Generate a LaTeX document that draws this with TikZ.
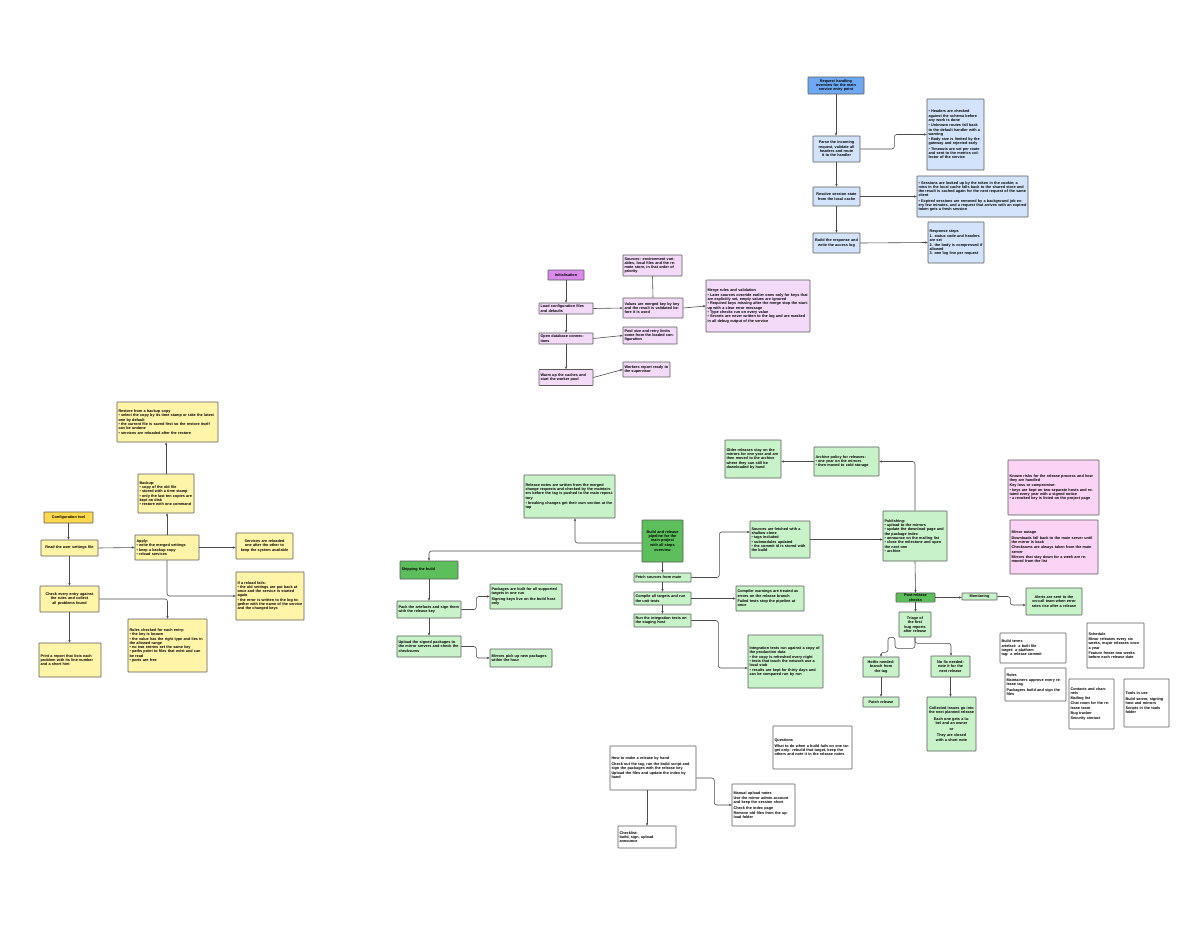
\documentclass[tikz,border=0pt]{standalone}
\usepackage{fontspec}
\setmainfont{Liberation Sans}
\usepackage{tikz}
\usetikzlibrary{positioning,arrows.meta}

\definecolor{bluehead}{HTML}{6EA8F2}
\definecolor{bluefill}{HTML}{D2E3FB}
\definecolor{purphead}{HTML}{D98BEC}
\definecolor{purpfill}{HTML}{F3DAF9}
\definecolor{yelhead}{HTML}{FFD84D}
\definecolor{yelfill}{HTML}{FFF4A8}
\definecolor{grnhead}{HTML}{5CBF5C}
\definecolor{grnfill}{HTML}{C8F2C8}
\definecolor{pinkfill}{HTML}{FBD3F5}

\begin{document}
\begin{tikzpicture}[x=1pt, y=-1pt,
    card/.style={draw=black!65, line width=0.6pt, rectangle, rounded corners=0.5pt, inner xsep=1.5pt, inner ysep=1pt, align=left, font=\fontsize{3.8}{4.3}\selectfont\bfseries},
    sz/.style 2 args={text width=#1pt, minimum height=#2pt},
    blueh/.style={card, fill=bluehead, align=center},
    blueb/.style={card, fill=bluefill},
    purph/.style={card, fill=purphead, align=center},
    purpb/.style={card, fill=purpfill},
    yelh/.style={card, fill=yelhead, align=center},
    yelb/.style={card, fill=yelfill},
    grnh/.style={card, fill=grnhead},
    grnb/.style={card, fill=grnfill},
    pinkb/.style={card, fill=pinkfill},
    whiteb/.style={card, fill=white},
    link/.style={draw=black!70, line width=0.6pt, -{Stealth[length=2.8pt,width=2.4pt]}, rounded corners=2.5pt},
    wire/.style={draw=black!70, line width=0.6pt, rounded corners=2.5pt}]

    \path[fill=white, use as bounding box] (0,0) rectangle (1200,927);

    % Request flow (blue)
    \node[blueh, sz={53}{17}] (req) at (836,85.5) {Request handling overview for the main service entry point};
    \node[blueb, sz={44}{26}, align=center] (parse) at (836.5,149) {Parse the incoming request, validate all headers and route it to the handler};
    \node[blueb, sz={44}{19}, align=center] (sess) at (836.5,196.5) {Resolve session state from the local cache};
    \node[blueb, sz={44}{20}, align=center] (resp) at (836.5,243) {Build the response and write the access log};
    \node[blueb, sz={54}{71}] (parsenote) at (955.5,134.5) {\textbullet\ Headers are checked against the schema before any work is done\\[1pt] \textbullet\ Unknown routes fall back to the default handler with a warning\\[1pt] \textbullet\ Body size is limited by the gateway and rejected early\\[1pt] \textbullet\ Timeouts are set per route and sent to the metrics collector of the service};
    \node[blueb, sz={108}{41}] (sessnote) at (972.5,196.5) {\textbullet\ Sessions are looked up by the token in the cookie; a miss in the local cache falls back to the shared store and the result is cached again for the next request of the same client\\[1pt] \textbullet\ Expired sessions are removed by a background job every few minutes, and a request that arrives with an expired token gets a fresh session};
    \node[blueb, sz={53}{41}] (respnote) at (956,242.5) {Response steps\\[1pt] 1. status code and headers are set\\ 2. the body is compressed if allowed\\ 3. one log line per request};

    % Initialisation (purple)
    \node[purph, sz={33}{10}] (init) at (566,275) {Initialisation};
    \node[purpb, sz={51}{11}] (load) at (566,308.5) {Load configuration files and defaults};
    \node[purpb, sz={51}{11}] (conn) at (566,338.5) {Open database connections};
    \node[purpb, sz={51}{16}] (warm) at (566,377.5) {Warm up the caches and start the worker pool};
    \node[purpb, sz={56}{21}] (cfgsrc) at (652.5,265.5) {Sources: environment variables, local files and the remote store, in that order of priority};
    \node[purpb, sz={57}{20}] (merge) at (653,308) {Values are merged key by key and the result is validated before it is used};
    \node[purpb, sz={51}{17}] (pool) at (650,335.5) {Pool size and retry limits come from the loaded configuration};
    \node[purpb, sz={44}{15}] (workers) at (646.5,369.5) {Workers report ready to the supervisor};
    \node[purpb, sz={101}{52}] (mergenote) at (758,306) {Merge rules and validation\\ \textbullet\ Later sources override earlier ones only for keys that are explicitly set, empty values are ignored\\ \textbullet\ Required keys missing after the merge stop the start-up with a clear error message\\ \textbullet\ Type checks run on every value\\ \textbullet\ Secrets are never written to the log and are masked in all debug output of the service};

    % Configuration tool (yellow)
    \node[yelh, sz={46}{11}] (cfg) at (68.5,517.5) {Configuration tool};
    \node[yelb, sz={54}{16}, align=center] (read) at (69.5,548) {Read the user settings file};
    \node[yelb, sz={56}{26}, align=center] (check) at (69.5,599) {Check every entry against the rules and collect all problems found};
    \node[yelb, sz={59}{34}] (report) at (70,660) {Print a report that lists each problem with its line number and a short hint};
    \node[yelb, sz={61}{25}] (apply) at (167,547.5) {Apply:\\ \textbullet\ write the merged settings\\ \textbullet\ keep a backup copy\\ \textbullet\ reload services};
    \node[yelb, sz={53}{39}] (backup) at (166,493.5) {Backup:\\ \textbullet\ copy of the old file\\ \textbullet\ stored with a time stamp\\ \textbullet\ only the last ten copies are kept on disk\\ \textbullet\ restore with one command};
    \node[yelb, sz={98}{40}] (restore) at (167.5,422) {Restore from a backup copy\\ \textbullet\ select the copy by its time stamp or take the latest one by default\\ \textbullet\ the current file is saved first so the restore itself can be undone\\ \textbullet\ services are reloaded after the restore};
    \node[yelb, sz={54}{26}, align=center] (reload) at (264.5,546) {Services are reloaded one after the other to keep the system available};
    \node[yelb, sz={65}{48}] (fail) at (270,596) {If a reload fails:\\ \textbullet\ the old settings are put back at once and the service is started again\\ \textbullet\ the error is written to the log together with the name of the service and the changed keys};
    \node[yelb, sz={76}{53}] (rules) at (167.5,645.5) {Rules checked for each entry:\\ \textbullet\ the key is known\\ \textbullet\ the value has the right type and lies in the allowed range\\ \textbullet\ no two entries set the same key\\ \textbullet\ paths point to files that exist and can be read\\ \textbullet\ ports are free};

    % Build and release (green)
    \node[grnh, sz={55}{18}] (ship) at (429,570) {Shipping the build};
    \node[grnb, sz={61}{17}] (pack) at (429,609.5) {Pack the artefacts and sign them with the release key};
    \node[grnb, sz={61}{21}] (upload) at (429,646.5) {Upload the signed packages to the mirror servers and check the checksums};
    \node[grnb, sz={69}{25}] (packnote) at (526,596.5) {Packages are built for all supported targets in one run\\[1pt] Signing keys live on the build host only};
    \node[grnb, sz={59}{18}] (mirror) at (521,658) {Mirrors pick up new packages within the hour};
    \node[grnb, sz={88}{43}] (notes) at (569.5,496.5) {Release notes are written from the merged change requests and checked by the maintainers before the tag is pushed to the main repository\\[1pt] \textbullet\ breaking changes get their own section at the top};
    \node[grnh, sz={38}{42}, align=center] (build) at (662.5,541) {Build and release pipeline for the main project with all steps\\[1pt] overview};
    \node[grnb, sz={54}{9}] (fetch) at (662.5,577.5) {Fetch sources from main};
    \node[grnb, sz={54}{13}] (compile) at (662.5,598.5) {Compile all targets and run the unit tests};
    \node[grnb, sz={54}{13}] (test) at (662.5,620.5) {Run the integration tests on the staging host};
    \node[grnb, sz={57}{37}] (fetchnote) at (780,539.5) {Sources are fetched with a shallow clone\\ \textbullet\ tags included\\ \textbullet\ submodules updated\\ \textbullet\ the commit id is stored with the build};
    \node[grnb, sz={65}{25}] (compnote) at (770,598.5) {Compiler warnings are treated as errors on the release branch\\[1pt] Failed tests stop the pipeline at once};
    \node[grnb, sz={72}{53}] (testnote) at (785.5,661.5) {Integration tests run against a copy of the production data\\ \textbullet\ the copy is refreshed every night\\ \textbullet\ tests that touch the network use a local stub\\ \textbullet\ results are kept for thirty days and can be compared run by run};
    \node[grnb, sz={53}{38}] (oldrel) at (753,459) {Older releases stay on the mirrors for one year and are then moved to the archive where they can still be downloaded by hand};
    \node[grnb, sz={62}{29}] (archive) at (846.5,461.5) {Archive policy for releases:\\ \textbullet\ one year on the mirrors\\ \textbullet\ then moved to cold storage};
    \node[grnb, sz={61}{50}] (publish) at (915,536) {Publishing:\\ \textbullet\ upload to the mirrors\\ \textbullet\ update the download page and the package index\\ \textbullet\ announce on the mailing list\\ \textbullet\ close the milestone and open the next one\\ \textbullet\ archive};
    \node[grnh, sz={36}{9}, align=center] (post) at (915.5,597.5) {Post-release checks};
    \node[grnb, sz={32}{7}, align=center] (monitor) at (979.5,596.5) {Monitoring};
    \node[grnb, sz={53}{27}, align=center] (alerts) at (1054,601.5) {Alerts are sent to the on-call team when error rates rise after a release};
    \node[grnb, sz={29}{25}, align=center] (triage) at (915,624.5) {Triage of the first bug reports after release};
    \node[grnb, sz={33}{20}, align=center] (hotfix) at (881,667) {Hotfix needed: branch from the tag};
    \node[grnb, sz={36}{21}, align=center] (nofix) at (950.5,666.5) {No fix needed: note it for the next release};
    \node[grnb, sz={33}{10}, align=center] (patch) at (881,702) {Patch release};
    \node[grnb, sz={46}{54}, align=center] (nextrel) at (951.5,724) {Collected issues go into the next planned release\\[2pt] Each one gets a label and an owner\\[2pt] or\\[2pt] They are closed with a short note};

    % Risks (pink)
    \node[pinkb, sz={88}{55}] (risk) at (1053.5,487.5) {Known risks for the release process and how they are handled\\[1pt] Key loss or compromise:\\ \textbullet\ keys are kept on two separate hosts and rotated every year with a signed notice\\ \textbullet\ a revoked key is listed on the project page};
    \node[pinkb, sz={85}{54}] (mirrorrisk) at (1054,547) {Mirror outage\\[1pt] Downloads fall back to the main server until the mirror is back\\[1pt] Checksums are always taken from the main server\\[1pt] Mirrors that stay down for a week are removed from the list};

    % Side notes (white)
    \node[whiteb, sz={63}{30}] (glossary) at (1033,648) {Build terms\\[1pt] artefact: a built file\\ target: a platform\\ tag: a release commit};
    \node[whiteb, sz={58}{33}] (roles) at (1035.5,684.5) {Roles\\[1pt] Maintainers approve every release tag\\[1pt] Packagers build and sign the files};
    \node[whiteb, sz={54}{45}] (sched) at (1115.5,645.5) {Schedule\\[1pt] Minor releases every six weeks, major releases once a year\\[1pt] Feature freeze two weeks before each release date};
    \node[whiteb, sz={42}{50}] (contacts) at (1091.5,704) {Contacts and channels\\[1pt] Mailing list\\[1pt] Chat room for the release team\\[1pt] Bug tracker\\[1pt] Security contact};
    \node[whiteb, sz={42}{48}] (tools) at (1146.5,703) {Tools in use\\[1pt] Build server, signing host and mirrors\\[1pt] Scripts in the tools folder};
    \node[whiteb, sz={83}{44}] (howto) at (653,768) {How to make a release by hand\\[1pt] Check out the tag, run the build script and sign the packages with the release key\\[1pt] Upload the files and update the index by hand};
    \node[whiteb, sz={55}{22}] (steps) at (647,837) {Checklist:\\ build, sign, upload\\ announce};
    \node[whiteb, sz={60}{42}] (manual) at (763.5,805) {Manual upload notes\\[1pt] Use the mirror admin account and keep the session short\\[1pt] Check the index page\\[1pt] Remove old files from the upload folder};
    \node[whiteb, sz={76}{43}] (faq) at (812.5,747.5) {Questions\\[1pt] What to do when a build fails on one target only: rebuild that target, keep the others and note it in the release notes};

    % Arrows (blue)
    \draw[link] (req.south) -- (req.south |- parse.north);
    \draw[link] (parse.south) -- (sess.north);
    \draw[link] (sess.south) -- (resp.north);
    \draw[link] (parse.east) -- ++(34,0) |- (parsenote.west);
    \draw[link] (sess.east) -- (sessnote.west);
    \draw[link] (resp.east) -- (respnote.west);

    % Arrows (purple)
    \draw[link] (init.south) -- (load.north);
    \draw[link] (load.south) -- (conn.north);
    \draw[link] (conn.south) -- (warm.north);
    \draw[link] (load.east) -- (merge.west);
    \draw[wire] (cfgsrc.south) -- (merge.north);
    \draw[link] (merge.east) -- (mergenote.west);
    \draw[link] (conn.east) -- (pool.west);
    \draw[link] (warm.east) -- (workers.west);

    % Arrows (yellow)
    \draw[link] (cfg.south) -- (cfg.south |- read.north);
    \draw[link] (read.south) -- (check.north);
    \draw[link] (check.south) -- (check.south |- report.north);
    \draw[link] (read.east) -- (apply.west);
    \draw[link] (apply.north) -- (apply.north |- backup.south);
    \draw[link] (backup.north) -- (backup.north |- restore.south);
    \draw[link] (apply.east) -- (apply.east -| reload.west);
    \draw[link] (apply.south) |- (fail.west);
    \draw[link] (check.east) -| (rules.north);

    % Arrows (green)
    \draw[link] ([yshift=-2pt]build.west) -| ([xshift=5.5pt]notes.south);
    \draw[link] ([yshift=-10pt]build.west) -| (ship.north);
    \draw[link] (ship.south) -- (pack.north);
    \draw[link] (pack.south) -- (upload.north);
    \draw[link] (pack.east) -- ++(15,0) |- (packnote.west);
    \draw[link] (upload.east) -- ++(15,0) |- (mirror.west);
    \draw[link] (build.south) -- (fetch.north);
    \draw[link] (fetch.south) -- (compile.north);
    \draw[link] (compile.south) -- (test.north);
    \draw[link] (fetch.east) -- ++(28,0) |- ([yshift=7.5pt]fetchnote.west);
    \draw[link] (compile.east) -- (compnote.west);
    \draw[link] (test.east) -- ++(27,0) |- ([yshift=-6.5pt]testnote.west);
    \draw[link] (fetchnote.east) -- (fetchnote.east -| publish.west);
    \draw[link] (publish.north) |- (archive.east);
    \draw[link] (archive.west) -- (archive.west -| oldrel.east);
    \draw[link] (publish.south) -- (post.north);
    \draw[link] (post.east) -- (post.east -| monitor.west);
    \draw[link] (monitor.east) -- ++(13,0) |- ([yshift=-3.5pt]alerts.west);
    \draw[link] (post.south) -- (post.south |- triage.north);
    \draw[link] (triage.south) -- ++(0,6) -| ([xshift=0.5pt]nofix.north);
    \draw[link] (triage.south) -- ++(0,11) -- ++(-20,0) -- ++(0,-11) -- ++(-7,0) -- ++(0,15) -| (hotfix.north);
    \draw[link] (hotfix.south) -- (patch.north);
    \draw[link] (nofix.south) -- (nofix.south |- nextrel.north);

    % Arrows (side notes)
    \draw[link] (howto.south -| steps.north) -- (steps.north);
    \draw[link] ([yshift=-10pt]howto.east) -- ++(18,0) |- (manual.west);
\end{tikzpicture}
\end{document}
